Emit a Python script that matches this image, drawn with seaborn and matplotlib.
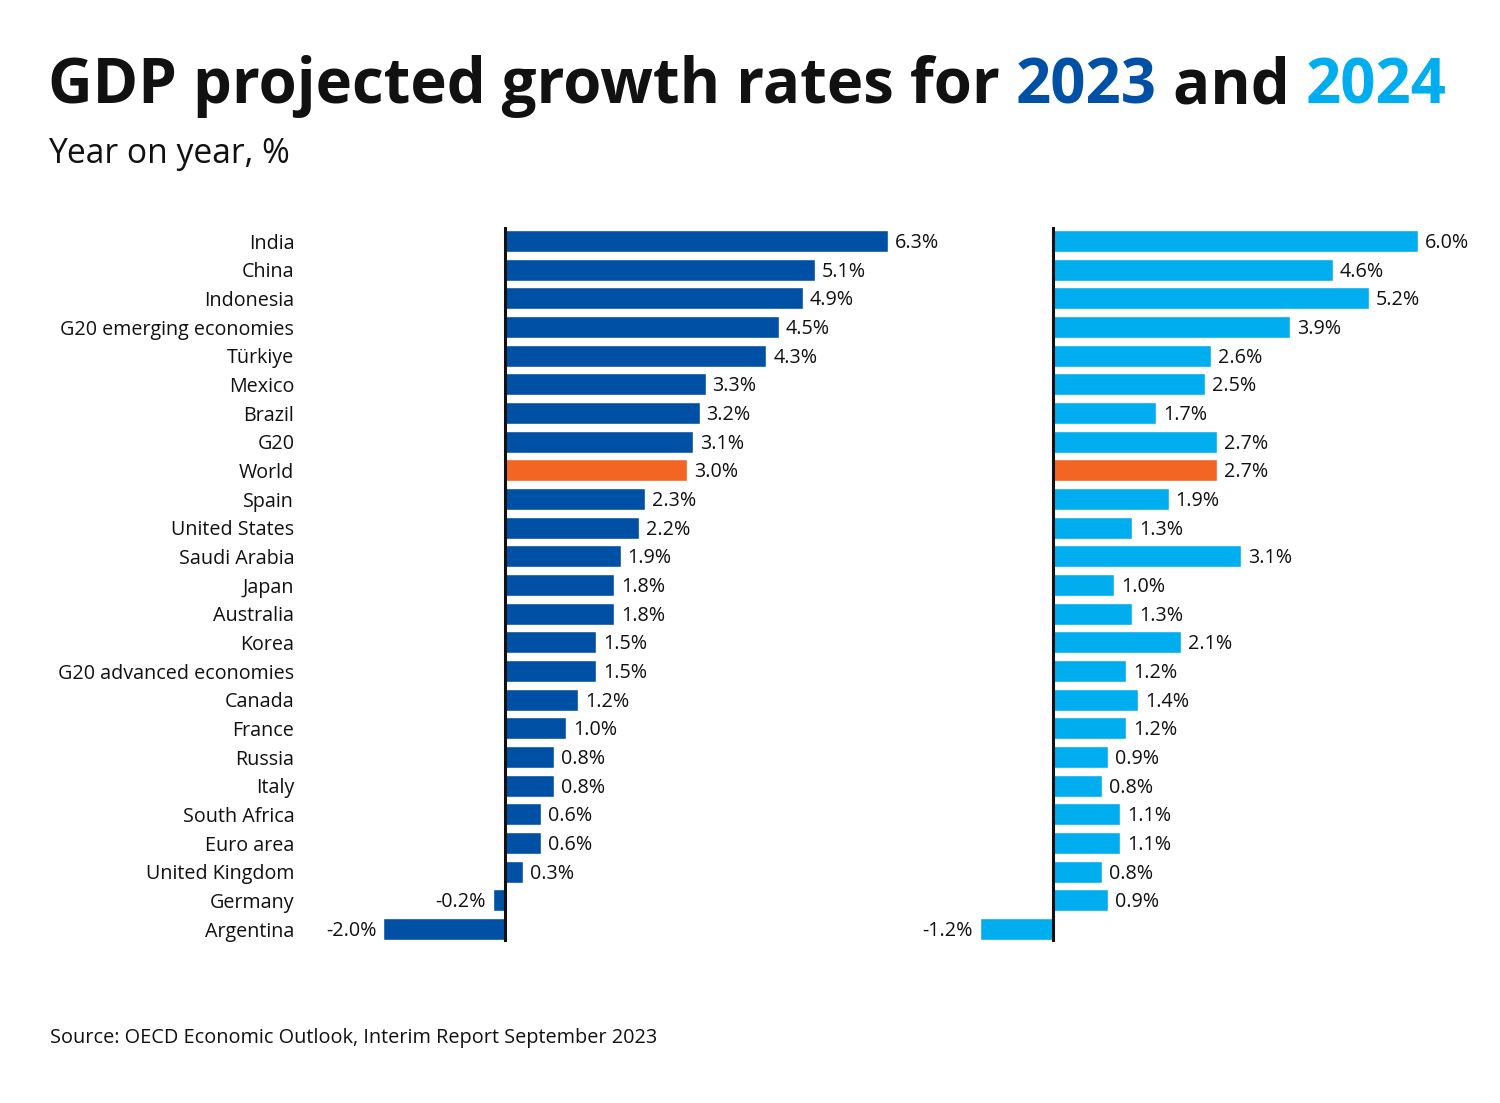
import pandas as pd
import seaborn as sns
from matplotlib import pyplot as plt

countries = ['India', 'China', 'Indonesia', 'G20 emerging economies', 'Türkiye', 'Mexico', 'Brazil',
             'G20', 'World', 'Spain', 'United States', 'Saudi Arabia', 'Japan', 'Australia', 'Korea',
             'G20 advanced economies', 'Canada', 'France', 'Russia', 'Italy', 'South Africa',
             'Euro area', 'United Kingdom', 'Germany', 'Argentina']
growth_2023 = [6.3, 5.1, 4.9, 4.5, 4.3, 3.3, 3.2, 3.1, 3.0, 2.3, 2.2, 1.9, 1.8, 1.8, 1.5,
               1.5, 1.2, 1.0, 0.8, 0.8, 0.6, 0.6, 0.3, -0.2, -2.0]
growth_2024 = [6.0, 4.6, 5.2, 3.9, 2.6, 2.5, 1.7, 2.7, 2.7, 1.9, 1.3, 3.1, 1.0, 1.3, 2.1,
               1.2, 1.4, 1.2, 0.9, 0.8, 1.1, 1.1, 0.8, 0.9, -1.2]

DARK_BLUE = '#0051a5'
LIGHT_BLUE = '#00aeef'
ORANGE = '#f26522'
INK = '#111111'

sns.set_style('white')
plt.rcParams['font.family'] = ['Open Sans', 'DejaVu Sans']
plt.rcParams['font.weight'] = 500

W, H = 1500, 1103
fig = plt.figure(figsize=(W / 100, H / 100), dpi=100)

df = pd.DataFrame({'country': countries, '2023': growth_2023, '2024': growth_2024})


def panel(left_px, right_px, col, base_color, xlim, show_labels):
    ax = fig.add_axes([left_px / W, 1 - 942 / H, (right_px - left_px) / W, 715 / H])
    colors = [ORANGE if c == 'World' else base_color for c in countries]
    sns.barplot(data=df, x=col, y='country', hue='country', palette=colors, legend=False,
                orient='h', width=0.77, saturation=1, ax=ax)
    for cont in ax.containers:
        labels = ax.bar_label(cont, labels=[f'{v:.1f}%' for v in cont.datavalues], padding=5,
                              fontsize=14.2, color=INK, fontweight=500)
        for t in labels:
            # offset is in points, nudge the label down a little
            t.set_y(-1.3)
    ax.set_xlim(*xlim)
    ax.set_ylim(24.45, -0.49)
    ax.axvline(0, color=INK, lw=2.2)
    ax.set_xlabel('')
    ax.set_ylabel('')
    ax.set_xticks([])
    sns.despine(ax=ax, left=True, bottom=True)
    if show_labels:
        ax.tick_params(axis='y', length=0, pad=54.5, labelsize=14.2, labelcolor=INK)
    else:
        ax.set_yticks([])
    return ax


panel(370, 960, '2023', DARK_BLUE, (-135 / 60.8, 455 / 60.8), True)
panel(965, 1490, '2024', LIGHT_BLUE, (-88 / 60.8, 437 / 60.8), False)

# multi-coloured title, pieces placed one after another
renderer = fig.canvas.get_renderer()
x = 48 / W
for piece, color in [('GDP projected growth rates for ', INK), ('2023', DARK_BLUE),
                     (' and ', INK), ('2024', LIGHT_BLUE)]:
    t = fig.text(x, 1 - 103 / H, piece, fontsize=44.4, fontweight='bold', color=color,
                 ha='left', va='baseline')
    bb = t.get_window_extent(renderer)
    x = bb.x1 / W

fig.text(48 / W, 1 - 163 / H, 'Year on year, %', fontsize=24.2, color=INK, ha='left', va='baseline')
fig.text(50 / W, 1 - 1043 / H, 'Source: OECD Economic Outlook, Interim Report September 2023',
         fontsize=14.3, color=INK, ha='left', va='baseline')

fig.savefig('out.png', dpi=100, facecolor='white')
